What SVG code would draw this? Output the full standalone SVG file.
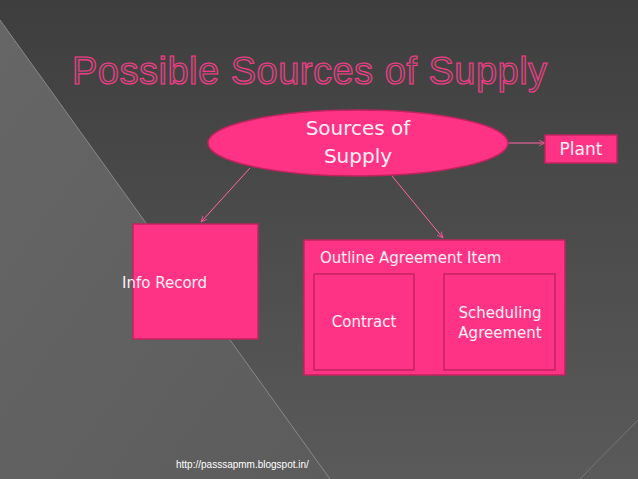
<svg xmlns="http://www.w3.org/2000/svg" width="638" height="479" viewBox="0 0 638 479">
<defs>
<linearGradient id="bg" x1="0" y1="0" x2="0" y2="1"><stop offset="0" stop-color="#3e3e3e"/><stop offset="1" stop-color="#5a5a5a"/></linearGradient>
<linearGradient id="bg2" x1="0" y1="0" x2="1" y2="1"><stop offset="0" stop-color="#666"/><stop offset="1" stop-color="#5c5c5c"/></linearGradient>
<marker id="ah" viewBox="0 0 10 10" refX="9" refY="5" markerWidth="7" markerHeight="7" orient="auto"><path d="M0,1 L9,5 L0,9" fill="none" stroke="#ff4d94" stroke-width="1.2"/></marker>
</defs>
<style>
.n{fill:#ff3385;stroke:#c0245f;stroke-width:1.5}
.t{font-family:"DejaVu Sans","Liberation Sans",sans-serif;fill:#fff0f5}
.c{stroke:#ff66a3;stroke-width:1;fill:none;marker-end:url(#ah)}
</style>
<rect width="638" height="479" fill="url(#bg)"/>
<path d="M0,20 L330,479 L0,479 Z" fill="url(#bg2)"/>
<path d="M0,20 L330,479" stroke="#888" stroke-width="1"/>
<path d="M580,479 L638,420" stroke="#777" stroke-width="1"/>
<text x="72" y="84" font-family="'Liberation Sans',sans-serif" font-size="38" fill="#4a4a4a" stroke="#ff3a8c" stroke-width="1.1" letter-spacing="0.5">Possible Sources of Supply</text>
<g id="connectors">
<line class="c" x1="250" y1="168" x2="201" y2="222"/>
<line class="c" x1="392" y1="176" x2="443" y2="238"/>
<line class="c" x1="508" y1="143" x2="545" y2="143"/>
</g>
<g id="sources"><ellipse class="n" cx="358" cy="143" rx="150" ry="33"/>
<text class="t" font-size="20" text-anchor="middle" x="358" y="135">Sources of</text>
<text class="t" font-size="20" text-anchor="middle" x="358" y="163">Supply</text></g>
<g id="plant"><rect class="n" x="545" y="135" width="72" height="28"/>
<text class="t" font-size="17" text-anchor="middle" x="581" y="155">Plant</text></g>
<g id="info"><rect class="n" x="133" y="224" width="125" height="115"/>
<text class="t" font-size="15" x="122" y="288">Info Record</text></g>
<g id="outline"><rect class="n" x="304" y="240" width="261" height="135"/>
<text class="t" font-size="15" x="320" y="263">Outline Agreement Item</text></g>
<g id="contract"><rect class="n" x="314" y="274" width="100" height="96"/>
<text class="t" font-size="15" text-anchor="middle" x="364" y="327">Contract</text></g>
<g id="sched"><rect class="n" x="444" y="274" width="111" height="96"/>
<text class="t" font-size="15" text-anchor="middle" x="500" y="318">Scheduling</text>
<text class="t" font-size="15" text-anchor="middle" x="500" y="338">Agreement</text></g>
<text x="176" y="468" font-family="'Liberation Sans',sans-serif" font-size="10" fill="#ffffff">http://passsapmm.blogspot.in/</text>
</svg>
